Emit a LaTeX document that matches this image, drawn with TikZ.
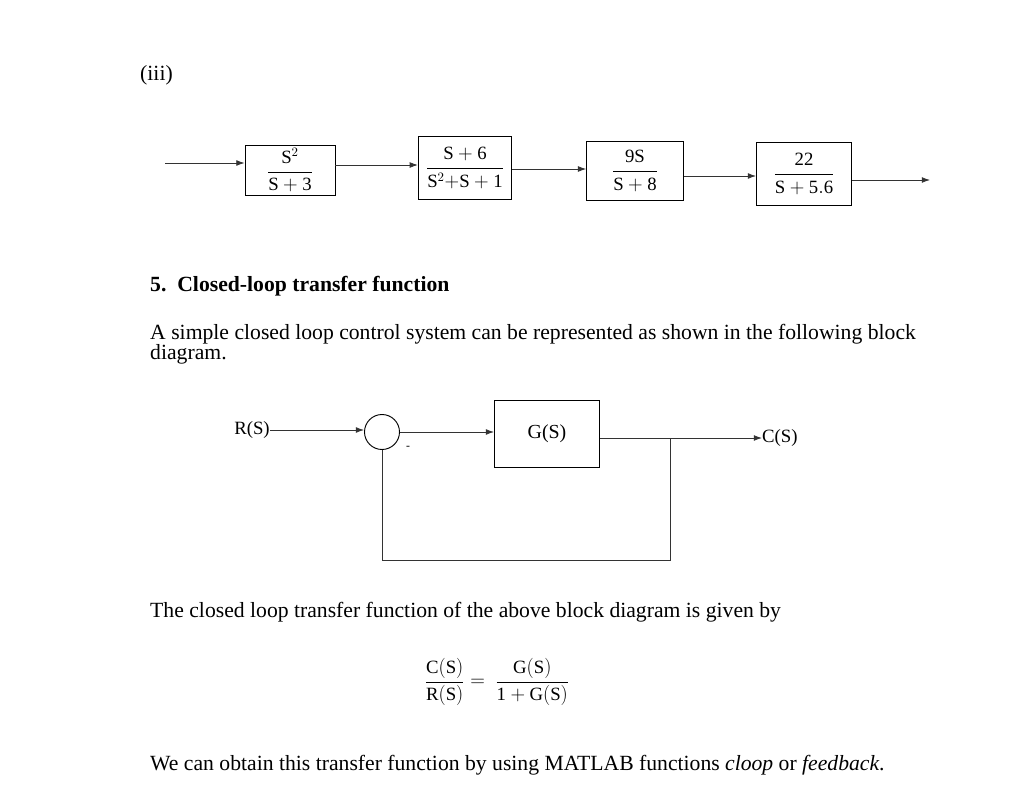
\documentclass[tikz,border=0pt]{standalone}
\usepackage{fontspec}
\setmainfont{Liberation Serif}
\setmathrm{Liberation Serif}
\usetikzlibrary{arrows.meta}
\begin{document}
\begin{tikzpicture}[x=0.03cm,y=-0.03cm,
  blk/.style={draw,line width=0.8pt,inner sep=0pt},
  ar/.style={-{Latex[length=7pt,width=5pt]},line width=0.7pt,draw=black!80},
  ln/.style={line width=0.7pt,draw=black!80},
  txt/.style={anchor=west,inner sep=0pt,font=\fontsize{18.5}{20}\selectfont},
  fr/.style={font=\fontsize{16}{17}\selectfont}]
\fill[white] (0,0) rectangle (1024,811);
\useasboundingbox (0,0) rectangle (1024,811);
\node[txt] (iii) at (140,75) {(iii)};
% cascade
\coordinate (in) at (165,163);
\node[blk,minimum width=2.7cm,minimum height=1.5cm] (b1) at (290,170) {};
\node[fr] at (b1) {$\displaystyle\frac{\mathrm{S}^2}{\mathrm{S+3}}$};
\node[blk,minimum width=2.8cm,minimum height=1.9cm] (b2) at (465,168) {};
\node[fr] at (b2) {$\displaystyle\frac{\mathrm{S+6}}{\mathrm{S}^2\mathrm{+S+1}}$};
\node[blk,minimum width=2.9cm,minimum height=1.75cm] (b3) at (635,171) {};
\node[fr] at (b3) {$\displaystyle\frac{\mathrm{9S}}{\mathrm{S+8}}$};
\node[blk,minimum width=2.85cm,minimum height=1.9cm] (b4) at (804,174) {};
\node[fr] at (b4) {$\displaystyle\frac{\mathrm{22}}{\mathrm{S+5.6}}$};
\coordinate (out) at (930,180);
\draw[ar] (in) -- (in-|b1.west);
\draw[ar] (b1.east|-0,165) -- (b2.west|-0,165);
\draw[ar] (b2.east|-0,169) -- (b3.west|-0,169);
\draw[ar] (b3.east|-0,176) -- (b4.west|-0,176);
\draw[ar] (b4.east|-out) -- (out);
% section
\node[txt,font=\fontsize{18.5}{20}\selectfont\bfseries] (h5) at (150,286) {5.\ \ Closed-loop transfer function};
\node[txt,anchor=north west,text width=24.2cm,align=justify] (p1) at (150,324) {A simple closed loop control system can be represented as shown in the following block\\[-3pt] diagram.};
% feedback diagram
\node[inner sep=0pt,font=\fontsize{16}{17}\selectfont] (R) at (252,430) {R(S)};
\node[draw,circle,line width=0.8pt,minimum size=1.05cm,inner sep=0pt] (sum) at (382,432) {};
\node[blk,minimum width=3.15cm,minimum height=2cm] (G) at (547,434) {};
\node[font=\fontsize{17}{18}\selectfont] at (G) {G(S)};
\node[inner sep=0pt,anchor=west,font=\fontsize{16}{17}\selectfont] (C) at (762,438) {C(S)};
\coordinate (br) at (670,438);
\coordinate (bb) at (670,560);
\coordinate (bl) at (382,560);
\draw[ar] (R.east) -- (R.east-|sum.west);
\draw[ar] (sum.east) -- (G.west|-sum.east);
\draw[ar] (G.east|-br) -- (C.west);
\draw[ln] (br) -- (bb) -- (bl) -- (sum.south);
\node[font=\fontsize{10}{10}\selectfont,inner sep=0pt] (minus) at (408,448) {-};
% text
\node[txt] (p2) at (150,612) {The closed loop transfer function of the above block diagram is given by};
\node[font=\fontsize{16}{17}\selectfont] (eq) at (497,682) {$\displaystyle\frac{\mathrm{C(S)}}{\mathrm{R(S)}}=\ \frac{\mathrm{G(S)}}{\mathrm{1+G(S)}}$};
\node[txt] (p3) at (150,765) {We can obtain this transfer function by using MATLAB functions \textit{cloop} or \textit{feedback}.};
\end{tikzpicture}
\end{document}
